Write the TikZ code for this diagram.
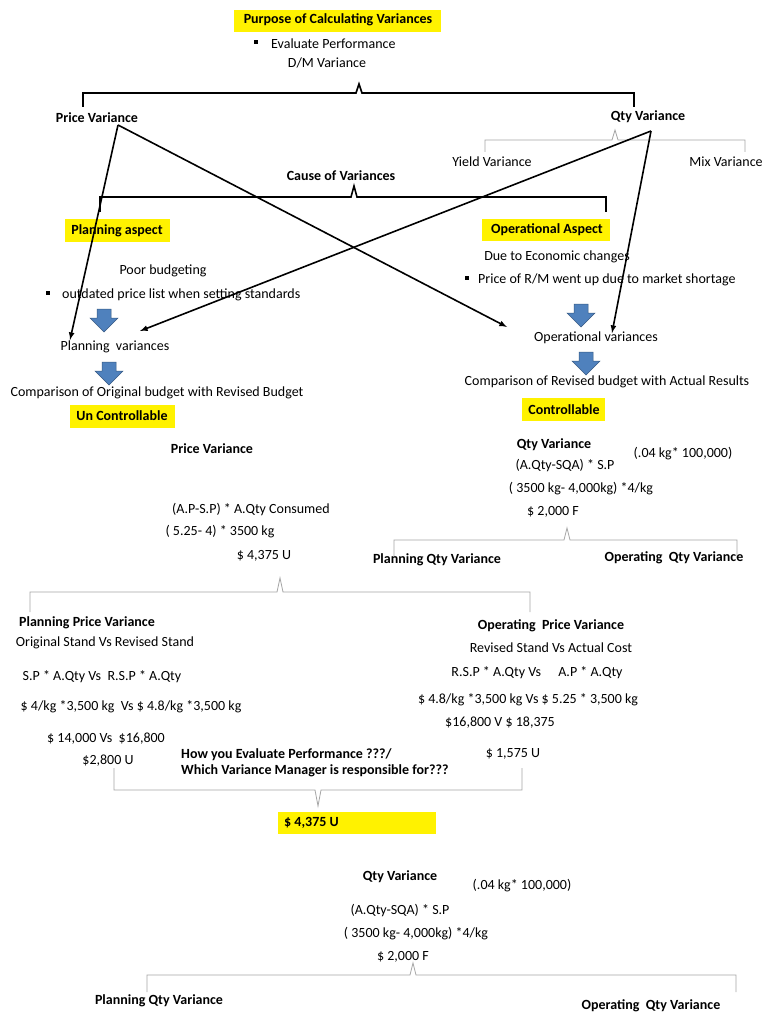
\documentclass[tikz,border=0pt]{standalone}
\usepackage{fontspec}
\setmainfont{Carlito}
\begin{document}
\begin{tikzpicture}[x=1pt,y=-1pt,
  every node/.style={inner sep=1pt,font=\fontsize{14}{16}\selectfont},
  t/.style={},
  b/.style={font=\fontsize{14}{16}\selectfont\bfseries},
  blk/.style={draw=black,line width=1.6pt},
  gry/.style={draw=gray!70,line width=0.8pt},
  conn/.style={draw=black,line width=1.6pt,-latex}]
\definecolor{barc}{RGB}{79,129,189}
\useasboundingbox (0,0) rectangle (768,1024);
\fill[white] (0,0) rectangle (768,1024);
% highlights
\fill[yellow] (234,10) rectangle (441,32);
\node[b] (purp) at (338,20) {Purpose of Calculating Variances};
\node[t,anchor=west] (eval) at (270,44) {Evaluate Performance};
\fill (254,40) rectangle (258,44);
\node[t] (dm) at (327,63) {D/M Variance};
% top brace
\draw[blk] (83,107) -- (83,93) -- (356,93) -- (359,84) -- (362,93) -- (634,93) -- (634,107);
\node[b] (pv) at (97,118) {Price Variance};
\node[b] (qv) at (648,117) {Qty Variance};
\draw[gry] (485,152) -- (485,140) -- (612,140) -- (615,130) -- (618,140) -- (745,140) -- (745,152);
\node[t] (yv) at (492,162) {Yield Variance};
\node[t] (mv) at (726,162) {Mix Variance};
\node[b] (cov) at (341,176) {Cause of Variances};
\draw[blk] (100,212) -- (100,197) -- (351,197) -- (354,186) -- (357,197) -- (606,197) -- (606,212);
\fill[yellow] (65,219) rectangle (170,242);
\node[b] (pa) at (117,231) {Planning aspect};
\fill[yellow] (482,219) rectangle (610,241);
\node[b] (oa) at (547,230) {Operational Aspect};
\node[t] (due) at (557,257) {Due to Economic changes};
\fill (465,276) rectangle (469,280);
\node[t,anchor=west] (rm) at (477,280) {Price of R/M went up due to market shortage};
\node[t] (poor) at (163,271) {Poor budgeting};
\fill (46,291) rectangle (50,295);
\node[t,anchor=west] (outd) at (61,295) {outdated price list when setting standards};
\node[t] (plv) at (115,347) {Planning \ variances};
\node[t] (opv) at (596,338) {Operational variances};
\node[t] (cmpo) at (157,393) {Comparison of Original budget with Revised Budget};
\node[t] (cmpr) at (607,382) {Comparison of Revised budget with Actual Results};
\fill[yellow] (70,405) rectangle (175,428);
\node[b] (unc) at (122,416) {Un Controllable};
\fill[yellow] (522,398) rectangle (605,421);
\node[b] (ctl) at (564,410) {Controllable};
% blue arrows
\foreach \x/\y in {104/309,109/362,581/304,586/352}{
  \draw[fill=barc,draw=barc!70!black,line width=0.5pt] (\x-7,\y) -- (\x+7,\y) -- (\x+7,\y+9) -- (\x+14,\y+9) -- (\x,\y+23) -- (\x-14,\y+9) -- (\x-7,\y+9) -- cycle;}
% connectors
\coordinate (pvs) at (118,125);
\coordinate (qvs) at (651,131);
\draw[conn] (pvs) -- (70,340);
\draw[conn] (pvs) -- (507,327);
\draw[conn] (qvs) -- (140,331);
\draw[conn] (qvs) -- (612,333);
% lower part
\node[b] (qv2) at (554,445) {Qty Variance};
\node[t] (q04) at (683,454) {(.04 kg* 100,000)};
\node[t] (qf) at (565,466) {(A.Qty-SQA) * S.P};
\node[t] (qn) at (581,489) {( 3500 kg- 4,000kg) *4/kg};
\node[t] (q2000) at (553,512) {\$ 2,000 F};
\draw[gry] (394,558) -- (394,540) -- (564,540) -- (567,528) -- (570,540) -- (737,540) -- (737,558);
\node[b] (pqv) at (437,560) {Planning Qty Variance};
\node[b] (oqv) at (674,558) {Operating \ Qty Variance};
\node[b] (pv2) at (212,449) {Price Variance};
\node[t] (pvf) at (251,510) {(A.P-S.P) * A.Qty Consumed};
\node[t] (pvn) at (220,532) {( 5.25- 4) * 3500 kg};
\node[t] (pvr) at (264,556) {\$ 4,375 U};
\draw[gry] (30,612) -- (30,592) -- (277,592) -- (280,578) -- (283,592) -- (530,592) -- (530,612);
\node[b] (ppv) at (87,623) {Planning Price Variance};
\node[t] (osr) at (105,643) {Original Stand Vs Revised Stand};
\node[b] (opv2) at (551,626) {Operating \ Price Variance};
\node[t] (rsa) at (551,648) {Revised Stand Vs Actual Cost};
\node[t] (l1) at (102,677) {S.P * A.Qty Vs \ R.S.P * A.Qty};
\node[t] (r1) at (537,673) {R.S.P * A.Qty Vs \quad A.P * A.Qty};
\node[t] (l2) at (131,707) {\$ 4/kg *3,500 kg \ Vs \$ 4.8/kg *3,500 kg};
\node[t] (r2) at (528,700) {\$ 4.8/kg *3,500 kg Vs \$ 5.25 * 3,500 kg};
\node[t] (l3) at (106,739) {\$ 14,000 Vs \ \$16,800};
\node[t] (r3) at (500,723) {\$16,800 V \$ 18,375};
\node[t] (l4) at (108,761) {\$2,800 U};
\node[t] (r4) at (513,754) {\$ 1,575 U};
\node[b,anchor=west,align=left] (how) at (180,763) {How you Evaluate Performance ???/\\Which Variance Manager is responsible for???};
\draw[gry] (114,768) -- (114,790) -- (315,790) -- (318,806) -- (321,790) -- (522,790) -- (522,768);
\fill[yellow] (278,812) rectangle (436,834);
\node[b,anchor=west] (tot) at (283,823) {\$ 4,375 U};
\node[b] (qv3) at (400,877) {Qty Variance};
\node[t] (q043) at (522,886) {(.04 kg* 100,000)};
\node[t] (qf3) at (400,910) {(A.Qty-SQA) * S.P};
\node[t] (qn3) at (416,934) {( 3500 kg- 4,000kg) *4/kg};
\node[t] (q30) at (403,957) {\$ 2,000 F};
\draw[gry] (147,992) -- (147,975) -- (410,975) -- (413,963) -- (416,975) -- (736,975) -- (736,992);
\node[b] (pqv3) at (159,1001) {Planning Qty Variance};
\node[b] (oqv3) at (651,1006) {Operating \ Qty Variance};
\end{tikzpicture}
\end{document}
